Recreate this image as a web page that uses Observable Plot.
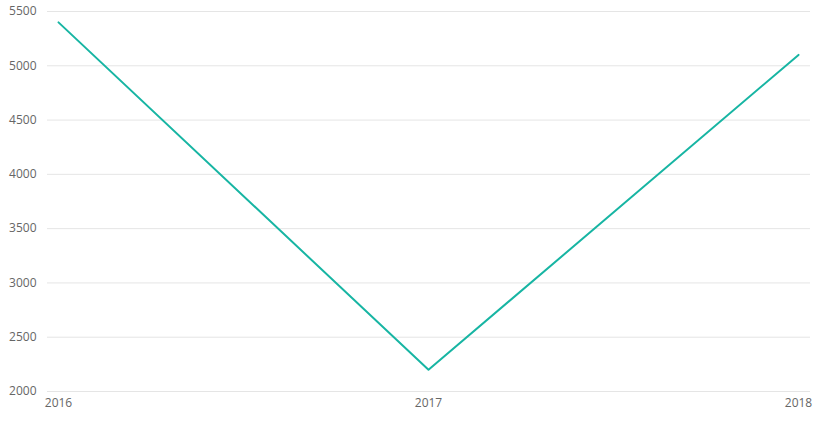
<!DOCTYPE html>
<html>
<head>
<meta charset="utf-8">
<script src="https://cdn.jsdelivr.net/npm/d3@7"></script>
<script src="https://cdn.jsdelivr.net/npm/@observablehq/plot@0.6"></script>
<style>
  html, body { margin: 0; padding: 0; background: #fff; }
  svg { display: block; }
</style>
</head>
<body>
<div id="chart"></div>
<script>
const years = [2016, 2017, 2018];
const values = [5400, 2200, 5100];
const yTicks = [2000, 2500, 3000, 3500, 4000, 4500, 5000, 5500];

const data = years.map((year, i) => ({year, value: values[i]}));

const chart = Plot.plot({
  width: 831,
  height: 422,
  marginTop: 11,
  marginBottom: 31,
  marginLeft: 58,
  marginRight: 33,
  style: {fontFamily: "'Open Sans', 'Noto Sans', sans-serif", fontSize: "12px", color: "#666", background: "#fff"},
  x: {type: "point", domain: years, padding: 0},
  y: {domain: [2000, 5500]},
  marks: [
    Plot.gridY(yTicks, {stroke: "#e5e5e5", strokeOpacity: 1, insetLeft: -11, insetRight: -12}),
    Plot.axisY(yTicks, {tickSize: 0, tickPadding: 22, fill: "#666", label: null, tickFormat: d => String(d)}),
    Plot.axisX(years, {tickSize: 0, tickPadding: 7, fill: "#666", label: null, tickFormat: d => String(d)}),
    Plot.line(data, {x: "year", y: "value", stroke: "#17b5a3", strokeWidth: 2})
  ]
});
document.getElementById("chart").appendChild(chart);
</script>
</body>
</html>
